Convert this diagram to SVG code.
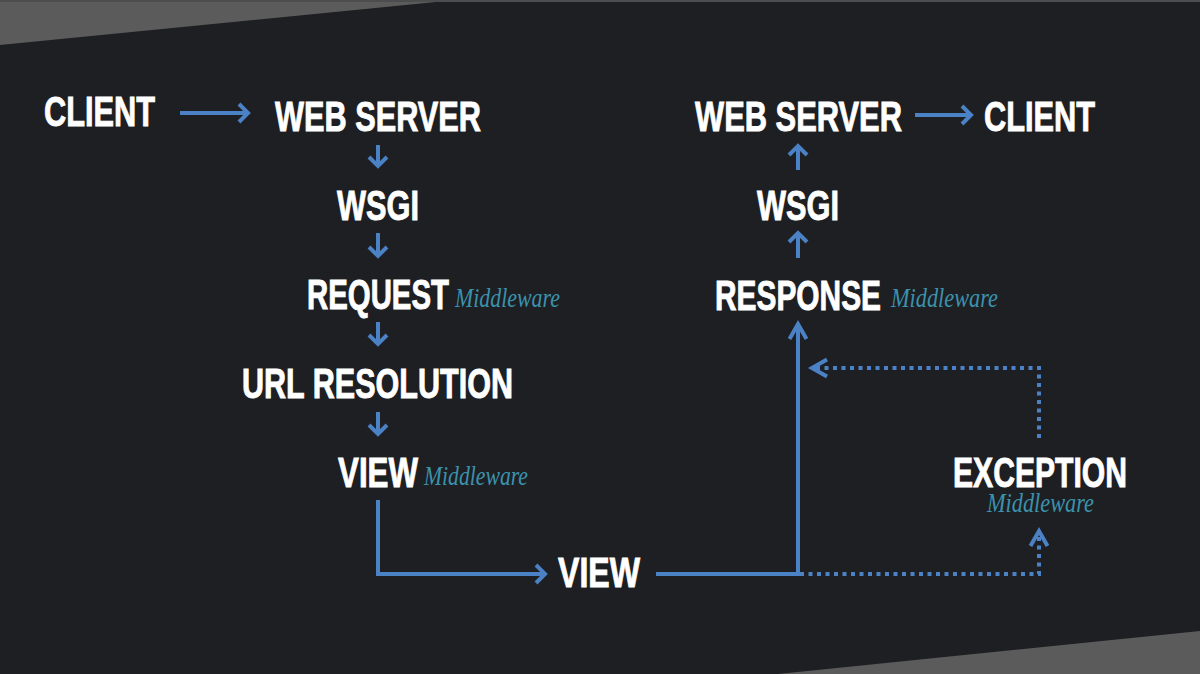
<svg xmlns="http://www.w3.org/2000/svg" width="1200" height="674" viewBox="0 0 1200 674">
<style>
.t{font-family:"Liberation Sans",Arial,sans-serif;font-weight:bold;font-size:42px;fill:#ffffff;stroke:#ffffff;stroke-width:0.9px;}
.m{font-family:"Liberation Serif","Times New Roman",serif;font-style:italic;font-size:27px;fill:#3b92ad;}
.c{fill:none;stroke:#4b82c6;stroke-width:4;}
.d{fill:none;stroke:#4b82c6;stroke-width:4;stroke-dasharray:4 4.5;}
</style>
<defs>
<marker id="as" markerUnits="userSpaceOnUse" markerWidth="20" markerHeight="20" orient="auto" overflow="visible">
<path d="M-9,-9 L0,0 L-9,9" fill="none" stroke="#4b82c6" stroke-width="4"/>
</marker>
<marker id="al" markerUnits="userSpaceOnUse" markerWidth="20" markerHeight="20" orient="auto" overflow="visible">
<path d="M-15,-8.5 L0,0 L-15,8.5" fill="none" stroke="#4b82c6" stroke-width="4"/>
</marker>
</defs>
<rect x="0" y="0" width="1200" height="674" fill="#1e1f23"/>
<rect x="0" y="0" width="1200" height="2" fill="#4d4d50"/>
<polygon points="0,2 436,2 0,45" fill="#5b5b5b"/>
<polygon points="778,674 1200,631 1200,674" fill="#5b5b5b"/>

<g id="connectors">
<line class="c" x1="180" y1="113" x2="248" y2="113" marker-end="url(#as)"/>
<line class="c" x1="915" y1="115" x2="971" y2="115" marker-end="url(#as)"/>
<line class="c" x1="378" y1="145" x2="378" y2="166" marker-end="url(#as)"/>
<line class="c" x1="378" y1="233" x2="378" y2="256" marker-end="url(#as)"/>
<line class="c" x1="378" y1="322" x2="378" y2="344" marker-end="url(#as)"/>
<line class="c" x1="378" y1="412" x2="378" y2="434" marker-end="url(#as)"/>
<line class="c" x1="798" y1="170" x2="798" y2="146" marker-end="url(#as)"/>
<line class="c" x1="798" y1="258" x2="798" y2="233" marker-end="url(#as)"/>
<path class="c" d="M378,500 V574 H545" marker-end="url(#as)"/>
<path class="c" d="M656,574 H798 V324" marker-end="url(#al)"/>
<path class="d" d="M800,574 H1039 V531" marker-end="url(#al)"/>
<path class="d" d="M1039,438 V368 H812" marker-end="url(#al)"/>
</g>

<g id="client-in"><text class="t" transform="translate(44,126) scale(0.72,1)" textLength="154.2" lengthAdjust="spacingAndGlyphs">CLIENT</text></g>
<g id="web-server-in"><text class="t" transform="translate(275,131) scale(0.72,1)" textLength="286.1" lengthAdjust="spacingAndGlyphs">WEB SERVER</text></g>
<g id="wsgi-in"><text class="t" transform="translate(337,220) scale(0.72,1)" textLength="113.9" lengthAdjust="spacingAndGlyphs">WSGI</text></g>
<g id="request-mw">
<text class="t" transform="translate(307,309) scale(0.72,1)" textLength="197.2" lengthAdjust="spacingAndGlyphs">REQUEST</text>
<text class="m" transform="translate(455,307) scale(0.82,1)" textLength="128" lengthAdjust="spacingAndGlyphs">Middleware</text>
</g>
<g id="url-resolution"><text class="t" transform="translate(242,398) scale(0.72,1)" textLength="376.4" lengthAdjust="spacingAndGlyphs">URL RESOLUTION</text></g>
<g id="view-mw">
<text class="t" transform="translate(338,487) scale(0.72,1)" textLength="111.1" lengthAdjust="spacingAndGlyphs">VIEW</text>
<text class="m" transform="translate(424,485) scale(0.82,1)" textLength="126.8" lengthAdjust="spacingAndGlyphs">Middleware</text>
</g>
<g id="view"><text class="t" transform="translate(558,587) scale(0.72,1)" textLength="113.9" lengthAdjust="spacingAndGlyphs">VIEW</text></g>
<g id="exception-mw">
<text class="t" transform="translate(953,487) scale(0.72,1)" textLength="241.7" lengthAdjust="spacingAndGlyphs">EXCEPTION</text>
<text class="m" transform="translate(987,512) scale(0.82,1)" textLength="130.5" lengthAdjust="spacingAndGlyphs">Middleware</text>
</g>
<g id="response-mw">
<text class="t" transform="translate(715,310) scale(0.72,1)" textLength="230.6" lengthAdjust="spacingAndGlyphs">RESPONSE</text>
<text class="m" transform="translate(891,307) scale(0.82,1)" textLength="130.5" lengthAdjust="spacingAndGlyphs">Middleware</text>
</g>
<g id="wsgi-out"><text class="t" transform="translate(757,220) scale(0.72,1)" textLength="113.9" lengthAdjust="spacingAndGlyphs">WSGI</text></g>
<g id="web-server-out"><text class="t" transform="translate(695,131) scale(0.72,1)" textLength="287.5" lengthAdjust="spacingAndGlyphs">WEB SERVER</text></g>
<g id="client-out"><text class="t" transform="translate(984,131) scale(0.72,1)" textLength="154.2" lengthAdjust="spacingAndGlyphs">CLIENT</text></g>
</svg>
